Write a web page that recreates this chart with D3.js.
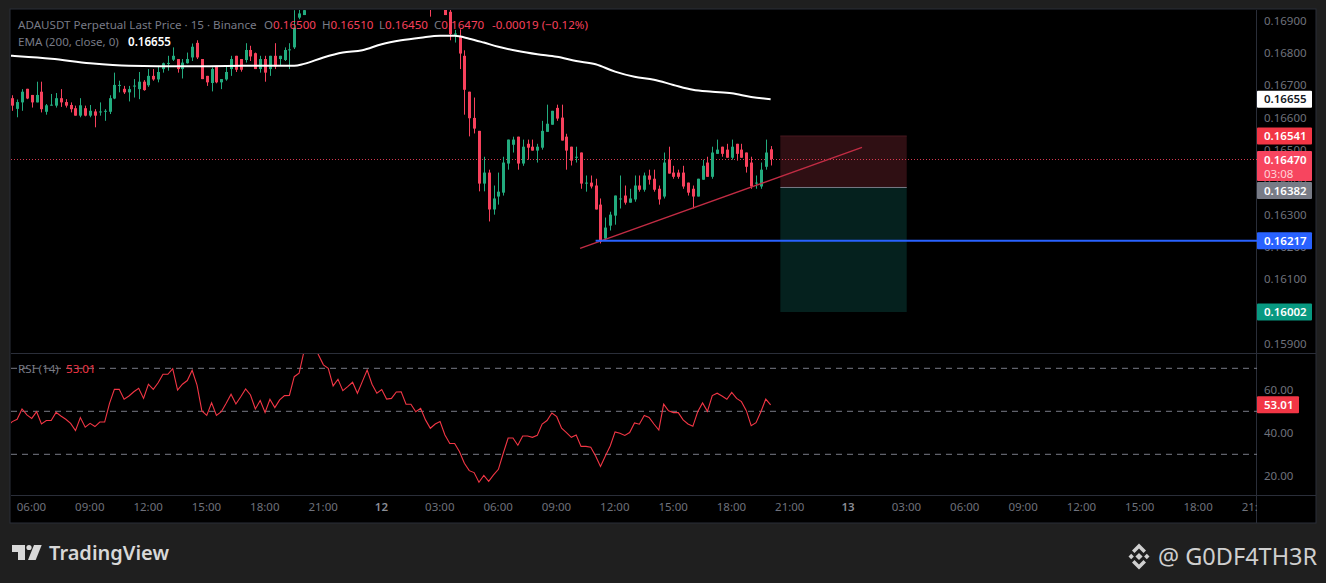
<!DOCTYPE html>
<html>
<head>
<meta charset="utf-8">
<script src="https://cdn.jsdelivr.net/npm/d3@7"></script>
<style>
  html, body { margin: 0; background: #1f1f1f; }
  svg { display: block; }
  text { font-family: "Noto Sans", sans-serif; }
</style>
</head>
<body>
<div id="chart"></div>
<script>
// candles are 15 min slots, prices in 1/100000 (16500 = 0.16500)
// null = the candle sits above the top of the pane in the picture
const hidden = n => Array(n).fill(null);

const opens = [
  16658,16625,16645,16687,16668,16645,16678,16616,16635,16635,
  16658,16646,16637,16627,16604,16627,16604,16617,16615,16617,
  16616,16657,16697,16687,16676,16695,16686,16709,16698,16727,
  16716,16748,16765,16777,16779,16748,16766,16784,16829,16779,
  16727,16705,16758,16707,16716,16748,16789,16779,16776,16807,
  16797,16748,16779,16748,16789,16779,16776,16807,16815,16907,
  16915,...hidden(25),16960,null,null,16940,
  16925,16854,16848,16789,16678,16597,16557,16394,16428,16314,
  16354,16366,16456,16514,16539,16456,16517,16508,16496,16505,
  16554,16576,16628,16598,16539,16508,16474,16490,16394,16397,
  16388,16329,16224,16264,16295,16346,16357,16335,16345,16388,
  16375,16419,16409,16378,16354,16468,16428,16428,16428,16397,
  16378,16354,16406,16459,16415,16486,16508,16499,16474,16517,
  16499,16490,16459,16395,16385,16446,16500
];
const highs = [
  16667,16654,16686,16687,16668,16709,16709,16640,16671,16674,
  16686,16655,16645,16635,16658,16635,16637,16624,16645,16624,
  16667,16737,16712,16696,16696,16717,16739,16714,16748,16748,
  16758,16768,16789,16815,16779,16779,16799,16827,16837,16779,
  16727,16753,16758,16717,16758,16789,16789,16779,16828,16820,
  16799,16789,16789,16789,16828,16789,16815,16828,16930,16940,
  16940,...hidden(25),16970,null,null,16945,
  16940,16869,16871,16806,16678,16660,16557,16477,16437,16388,
  16428,16477,16530,16539,16539,16530,16530,16530,16517,16588,
  16638,16619,16638,16638,16548,16508,16508,16490,16419,16419,
  16409,16348,16289,16307,16357,16419,16388,16378,16419,16419,
  16428,16437,16437,16388,16490,16508,16449,16437,16449,16397,
  16388,16409,16468,16477,16508,16530,16508,16517,16530,16517,
  16517,16490,16477,16419,16459,16530,16510
];
const lows = [
  16619,16599,16619,16655,16629,16645,16614,16607,16635,16629,
  16631,16629,16614,16604,16599,16602,16599,16568,16604,16588,
  16609,16655,16676,16671,16648,16660,16655,16681,16693,16712,
  16707,16737,16743,16773,16737,16719,16765,16773,16779,16717,
  16696,16679,16704,16686,16712,16727,16739,16740,16768,16773,
  16748,16737,16709,16727,16748,16758,16773,16748,16810,16902,
  16915,...hidden(25),16910,null,null,16915,
  16837,16830,16748,16607,16540,16549,16370,16370,16277,16298,
  16329,16357,16437,16490,16437,16449,16468,16496,16459,16499,
  16554,16576,16588,16527,16437,16450,16459,16378,16369,16379,
  16314,16209,16218,16249,16267,16317,16329,16335,16338,16369,
  16369,16391,16369,16329,16348,16425,16409,16409,16378,16357,
  16317,16354,16406,16415,16409,16486,16477,16474,16468,16465,
  16474,16428,16378,16378,16378,16437,16450
];
const closes = [
  16635,16646,16678,16657,16645,16668,16624,16636,16638,16658,
  16645,16635,16624,16604,16636,16604,16619,16604,16617,16619,
  16658,16699,16699,16676,16686,16697,16709,16683,16727,16716,
  16739,16766,16767,16789,16748,16768,16779,16817,16784,16717,
  16707,16748,16707,16717,16739,16779,16746,16746,16807,16787,
  16748,16779,16737,16789,16756,16789,16807,16809,16876,16920,
  16930,...hidden(25),16945,null,null,16915,
  16856,16858,16796,16684,16596,16564,16394,16428,16314,16348,
  16369,16459,16530,16530,16456,16508,16505,16496,16508,16557,
  16579,16619,16595,16527,16496,16465,16477,16394,16397,16385,
  16314,16215,16258,16298,16357,16348,16335,16348,16388,16375,
  16419,16406,16375,16345,16459,16425,16415,16415,16385,16366,
  16354,16409,16449,16415,16490,16499,16486,16474,16508,16486,
  16474,16446,16385,16397,16437,16490,16470
];

// EMA (200, close) read at a sample of slots
const emaSlots = [-1,0,8,16,24,32,40,48,56,58,60,64,68,72,76,80,84,88,91,94,97,100,104,108,112,116,120,124,128,132,136,140,144,148,152,156];
const emaValues = [16790,16789,16780,16766,16758,16757,16757,16758,16758,16758,16764,16784,16799,16806,16825,16837,16845,16851,16851,16842,16830,16817,16804,16794,16786,16773,16763,16740,16724,16715,16699,16684,16678,16673,16662,16655];

// RSI (14), one value per candle, the first one is the slot before the left edge
const rsiValues = [
  43.3,
  45.2,46.3,51.1,48.3,46.7,49.8,44.1,45.7,45.7,49.5,
  47.8,46.3,44.4,41.0,47.1,42.6,44.4,42.9,45.0,45.0,
  53.7,60.2,60.2,55.6,57.1,59.1,60.7,56.0,62.6,60.2,
  63.3,67.2,67.2,69.8,59.9,62.6,64.3,69.1,62.2,50.2,
  48.1,54.0,48.1,49.8,53.7,57.9,53.4,56.8,60.4,57.6,
  51.1,55.0,49.5,55.6,51.7,55.3,57.3,57.4,66.1,67.7,
  77.8,81.6,80.9,76.2,71.6,70.0,61.8,64.9,59.6,61.5,
  63.5,58.4,63.8,69.2,62.6,58.4,60.1,55.7,56.0,59.0,
  59.1,53.3,53.3,49.8,51.4,46.0,42.1,44.1,45.2,39.0,
  35.0,35.0,31.2,25.8,22.4,21.5,17.0,20.2,17.4,20.4,
  23.0,30.5,37.6,37.6,34.2,38.5,38.5,37.9,38.8,44.1,
  45.7,49.2,47.5,42.1,40.1,37.9,39.0,33.7,33.7,33.3,
  29.2,24.3,29.2,33.9,40.4,39.8,38.8,40.1,44.6,44.0,
  48.1,47.1,44.1,41.3,53.3,50.2,49.4,49.4,46.0,44.1,
  43.0,49.8,53.9,50.0,57.3,58.4,57.1,55.6,58.8,56.0,
  54.5,50.3,43.3,44.7,49.8,55.7,53.01
];

// axis ticks
const priceTicks = [16900,16800,16700,16600,16500,16400,16300,16200,16100,15900];
const rsiTicks = [60,40,20];
const rsiBands = [70,50,30];
const timeSlots = d3.range(4, 257, 12);
const timeLabels = ["06:00","09:00","12:00","15:00","18:00","21:00","12","03:00","06:00","09:00","12:00","15:00","18:00","21:00","13","03:00","06:00","09:00","12:00","15:00","18:00","21:00"];

// drawings on the chart
const trendSlots = [116.8,174.8];
const trendPrices = [16194,16506];
const supportStart = 120, supportPrice = 16217;
const boxSlots = [158,184];
const stopPrice = 16541, entryPrice = 16382, targetPrice = 15997;
const lastPrice = 16470, lastRsi = 53.01, lastEma = 16655;

const width = 1326, height = 583;
const paneLeft = 11, axisX = 1257, paneRight = 1316;
const priceTop = 10, priceBottom = 353, rsiBottom = 495, frameBottom = 523;

const upColor = "#22ab7e", downColor = "#f7415c";
const axisColor = "#6f727c", lineColor = "#2a2e39";
const tickFont = '"Noto Sans", sans-serif';

const svg = d3.create("svg").attr("width", width).attr("height", height);
d3.select("#chart").append(() => svg.node());

const x = d3.scaleLinear().domain([0, 256]).range([12.3, 12.3 + 256 * 4.861]);
const y = d3.scaleLinear().domain([16900, 15900]).range([19.9, 343.4]);
const yRsi = d3.scaleLinear().domain([50, 30]).range([411.3, 454.3]);

svg.append("rect").attr("width", width).attr("height", height).attr("fill", "#1f1f1f");
svg.append("rect").attr("x", paneLeft - 1).attr("y", priceTop - 1)
  .attr("width", paneRight - paneLeft + 1).attr("height", frameBottom - priceTop + 1)
  .attr("fill", "#000").attr("stroke", lineColor);

const defs = svg.append("defs");
defs.append("clipPath").attr("id", "clipPrice").append("rect")
  .attr("x", paneLeft).attr("y", priceTop).attr("width", axisX - paneLeft).attr("height", priceBottom - priceTop);
defs.append("clipPath").attr("id", "clipRsi").append("rect")
  .attr("x", paneLeft).attr("y", priceBottom + 1).attr("width", axisX - paneLeft).attr("height", rsiBottom - priceBottom - 1);
defs.append("clipPath").attr("id", "clipTime").append("rect")
  .attr("x", paneLeft).attr("y", rsiBottom).attr("width", axisX - paneLeft).attr("height", frameBottom - rsiBottom);

// pane separators
svg.append("g").attr("stroke", lineColor).selectAll("line")
  .data([priceBottom, rsiBottom]).join("line")
  .attr("x1", paneLeft).attr("x2", paneRight)
  .attr("y1", d => d + 0.5).attr("y2", d => d + 0.5);
svg.append("line").attr("x1", axisX - 0.5).attr("x2", axisX - 0.5)
  .attr("y1", priceTop).attr("y2", frameBottom).attr("stroke", lineColor);

// axes
svg.append("g")
  .attr("transform", `translate(${axisX - 1},0.5)`)
  .call(d3.axisRight(y).tickValues(priceTicks).tickSize(0).tickPadding(8).tickFormat(d => (d / 1e5).toFixed(5)))
  .call(g => g.select(".domain").remove())
  .call(g => g.selectAll("text").attr("fill", axisColor).attr("font-size", 11.5).attr("font-family", tickFont));

svg.append("g")
  .attr("transform", `translate(${axisX - 1},0.5)`)
  .call(d3.axisRight(yRsi).tickValues(rsiTicks).tickSize(0).tickPadding(8).tickFormat(d => d.toFixed(2)))
  .call(g => g.select(".domain").remove())
  .call(g => g.selectAll("text").attr("fill", axisColor).attr("font-size", 11.5).attr("font-family", tickFont));

svg.append("g")
  .attr("clip-path", "url(#clipTime)")
  .append("g")
  .attr("transform", `translate(-0.8,${rsiBottom + 5})`)
  .call(d3.axisBottom(x).tickValues(timeSlots).tickSize(0).tickPadding(3).tickFormat((d, i) => timeLabels[i]))
  .call(g => g.select(".domain").remove())
  .call(g => g.selectAll("text")
    .attr("fill", (d, i) => timeLabels[i].length < 3 ? "#8b8e97" : axisColor)
    .attr("font-weight", (d, i) => timeLabels[i].length < 3 ? 600 : 400)
    .attr("font-size", 11.5).attr("font-family", tickFont));

// position box
const pricePane = svg.append("g").attr("clip-path", "url(#clipPrice)");
pricePane.append("rect")
  .attr("x", x(boxSlots[0])).attr("width", x(boxSlots[1]) - x(boxSlots[0]))
  .attr("y", y(stopPrice)).attr("height", y(entryPrice) - y(stopPrice))
  .attr("fill", "#2f0f13");
pricePane.append("rect")
  .attr("x", x(boxSlots[0])).attr("width", x(boxSlots[1]) - x(boxSlots[0]))
  .attr("y", y(entryPrice)).attr("height", y(targetPrice) - y(entryPrice))
  .attr("fill", "#05211e");
pricePane.append("line")
  .attr("x1", x(boxSlots[0])).attr("x2", x(boxSlots[1]))
  .attr("y1", y(stopPrice)).attr("y2", y(stopPrice))
  .attr("stroke", "#4a1a20");
pricePane.append("line")
  .attr("x1", x(boxSlots[0])).attr("x2", x(boxSlots[1]))
  .attr("y1", y(entryPrice)).attr("y2", y(entryPrice))
  .attr("stroke", "#787b86");

// last price line
pricePane.append("line")
  .attr("x1", paneLeft).attr("x2", axisX)
  .attr("y1", y(lastPrice)).attr("y2", y(lastPrice))
  .attr("stroke", downColor).attr("stroke-opacity", 0.85).attr("stroke-dasharray", "1 2")
  .attr("shape-rendering", "crispEdges");

// candles
const slots = d3.range(opens.length).filter(i => opens[i] !== null);
const candleColor = i => closes[i] >= opens[i] ? upColor : downColor;
pricePane.append("g").selectAll("line").data(slots).join("line")
  .attr("x1", i => Math.round(x(i)) + 0.5).attr("x2", i => Math.round(x(i)) + 0.5)
  .attr("y1", i => y(highs[i])).attr("y2", i => y(lows[i]))
  .attr("stroke", candleColor);
pricePane.append("g").selectAll("rect").data(slots).join("rect")
  .attr("x", i => Math.round(x(i)) - 1)
  .attr("width", 3)
  .attr("y", i => y(Math.max(opens[i], closes[i])))
  .attr("height", i => Math.max(1, Math.abs(y(opens[i]) - y(closes[i]))))
  .attr("fill", candleColor);

// EMA
pricePane.append("path")
  .attr("fill", "none").attr("stroke", "#fff").attr("stroke-width", 2)
  .attr("d", d3.line().x(i => x(emaSlots[i])).y(i => y(emaValues[i])).curve(d3.curveMonotoneX)(d3.range(emaSlots.length)));

// trend line and support level
pricePane.append("line")
  .attr("x1", x(trendSlots[0])).attr("x2", x(trendSlots[1]))
  .attr("y1", y(trendPrices[0])).attr("y2", y(trendPrices[1]))
  .attr("stroke", "#c22c44").attr("stroke-width", 1.4);
pricePane.append("line")
  .attr("x1", x(supportStart)).attr("x2", axisX)
  .attr("y1", y(supportPrice)).attr("y2", y(supportPrice))
  .attr("stroke", "#2962ff").attr("stroke-width", 2);

// RSI pane
const rsiPane = svg.append("g").attr("clip-path", "url(#clipRsi)");
rsiPane.append("g").selectAll("line").data(rsiBands).join("line")
  .attr("x1", paneLeft).attr("x2", axisX)
  .attr("y1", d => yRsi(d)).attr("y2", d => yRsi(d))
  .attr("stroke", "#787b86").attr("stroke-dasharray", "6 5");
rsiPane.append("path")
  .attr("fill", "none").attr("stroke", "#f23645").attr("stroke-width", 1.1)
  .attr("d", d3.line().x((d, i) => x(i - 1)).y(d => yRsi(d))(rsiValues));

// legends
const legend = svg.append("g").attr("font-size", 11.6);
const legendText = (px, py, str, fill, weight) => legend.append("text")
  .attr("x", px).attr("y", py).attr("fill", fill).attr("font-weight", weight || 400).text(str);
legendText(18, 29, "ADAUSDT Perpetual Last Price · 15 · Binance", "#787b86");
[["O", "0.16500", 264], ["H", "0.16510", 322], ["L", "0.16450", 379], ["C", "0.16470", 434]].forEach(([k, v, px]) => {
  const t = legendText(px, 29, k, "#787b86");
  t.append("tspan").attr("fill", downColor).text(v);
});
legendText(492, 29, "-0.00019 (−0.12%)", downColor);
legendText(18, 46, "EMA (200, close, 0)", "#787b86");
legendText(128, 46, "0.16655", "#fff", 600);
legendText(18, 373, "RSI (14)", "#787b86");
legendText(66, 373, "53.01", "#f23645");

// price tags on the axis
const tags = [
  { v: y(lastEma), text: "0.16655", fill: "#fff", color: "#131722", w: 55 },
  { v: y(stopPrice), text: "0.16541", fill: "#f23645", color: "#fff", w: 55 },
  { v: y(entryPrice) + 3, text: "0.16382", fill: "#787b86", color: "#fff", w: 55 },
  { v: y(supportPrice), text: "0.16217", fill: "#2962ff", color: "#fff", w: 55 },
  { v: y(targetPrice), text: "0.16002", fill: "#089981", color: "#fff", w: 55 },
  { v: yRsi(lastRsi), text: "53.01", fill: "#f23645", color: "#fff", w: 42 }
];
const tagG = svg.append("g").selectAll("g").data(tags).join("g")
  .attr("transform", d => `translate(${axisX},${d.v})`);
tagG.append("rect").attr("y", -8.5).attr("height", 17).attr("width", d => d.w).attr("rx", 1).attr("fill", d => d.fill);
tagG.append("text").attr("x", 7).attr("y", 4.2).attr("font-size", 11.5).attr("font-weight", 600)
  .attr("fill", d => d.color).text(d => d.text);

const lastTag = svg.append("g").attr("transform", `translate(${axisX},${y(lastPrice)})`);
lastTag.append("rect").attr("y", -8).attr("width", 55).attr("height", 30).attr("rx", 1).attr("fill", "#f7455f");
lastTag.append("text").attr("x", 7).attr("y", 4.5).attr("font-size", 11.5).attr("font-weight", 600).attr("fill", "#fff").text("0.16470");
lastTag.append("text").attr("x", 7).attr("y", 18.5).attr("font-size", 11.5).attr("fill", "#ffd2d8").text("03:08");

// footer
const logo = svg.append("g").attr("fill", "#d8d8d8");
logo.append("path").attr("d", "M12 545H25V560H18V552H12Z");
logo.append("circle").attr("cx", 29).attr("cy", 547.5).attr("r", 2.6);
logo.append("path").attr("d", "M34 545H41.7L35.7 560H28Z");
svg.append("text").attr("x", 49).attr("y", 560).attr("font-size", 20).attr("font-weight", 600)
  .attr("fill", "#d8d8d8").text("TradingView");

const badge = svg.append("g").attr("transform", "translate(1139,556.5)").attr("fill", "#d0d0d0");
badge.append("path").attr("d", "M0-3.6L3.6 0L0 3.6L-3.6 0Z");
badge.append("path").attr("d", "M-10.5 0L-7.8-2.7L-5.1 0L-7.8 2.7Z");
badge.append("path").attr("d", "M10.5 0L7.8-2.7L5.1 0L7.8 2.7Z");
badge.append("path").attr("d", "M0-13L7-6L4.5-3.5L0-8L-4.5-3.5L-7-6Z");
badge.append("path").attr("d", "M0 13L7 6L4.5 3.5L0 8L-4.5 3.5L-7 6Z");
svg.append("text").attr("x", 1158).attr("y", 564.5).attr("font-size", 23.5)
  .attr("fill", "#cfcfcf").text("@ G0DF4TH3R");
</script>
</body>
</html>
